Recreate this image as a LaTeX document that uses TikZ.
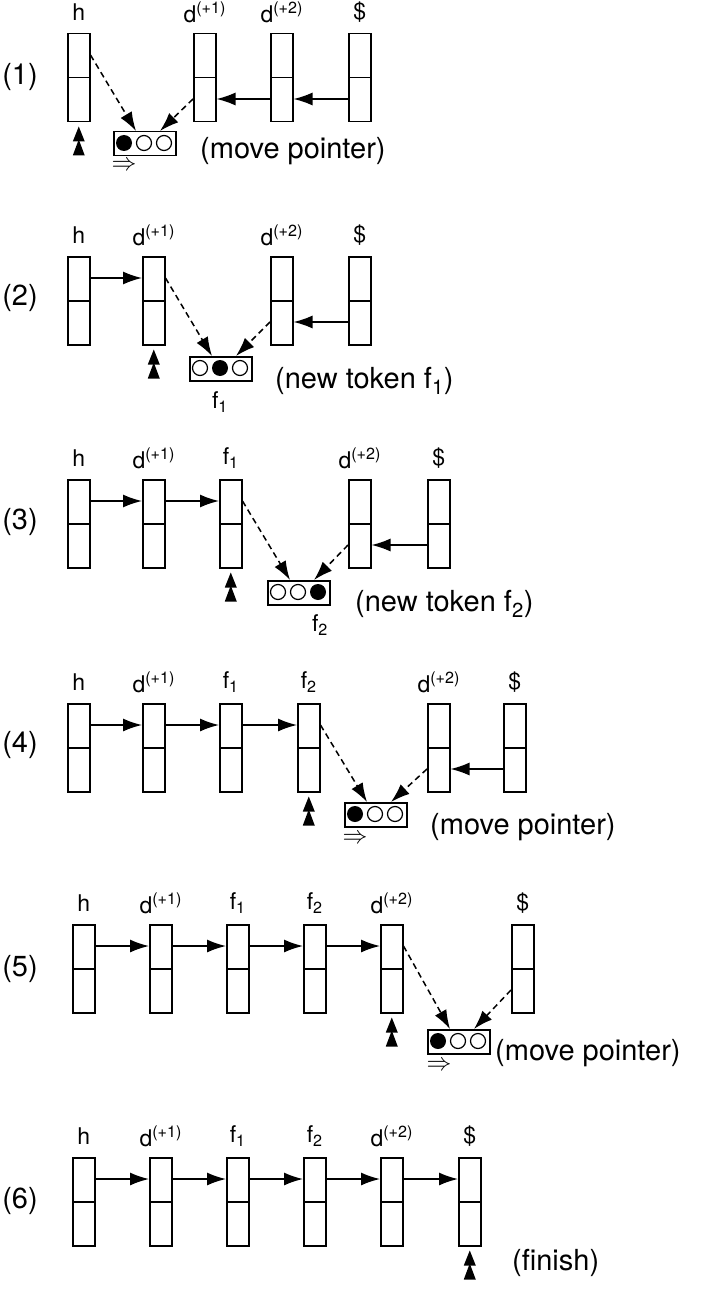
\documentclass[tikz,border=0pt]{standalone}
\usepackage{fontspec}
\setmainfont{TeX Gyre Heros}
\usetikzlibrary{calc,arrows.meta}

\tikzset{
  cell/.style={draw,line width=1.5pt,minimum width=22pt,minimum height=88pt,inner sep=0pt,anchor=north west},
  pbox/.style={draw,line width=1.5pt,minimum width=62pt,minimum height=24pt,inner sep=0pt,anchor=north west},
  lbl/.style={font=\fontsize{23}{23}\selectfont,inner sep=0pt},
  note/.style={font=\fontsize{29}{29}\selectfont,inner sep=0pt,anchor=west},
  link/.style={line width=1.5pt,-{Latex[length=19pt,width=13pt]}},
  ptrlink/.style={link,dash pattern=on 6pt off 4pt},
}

% token cell: name, x, top, label
\newcommand\tok[4]{%
  \node[cell] (#1) at (#2,#3) {};
  \draw[line width=1.5pt] (#1.west) -- (#1.east);
  \node[lbl] (#1l) at ($(#1.north)+(0,-21)$) {#4};}
% pointer box: name, x, top, filled slot
\newcommand\ptr[4]{%
  \node[pbox] (#1) at (#2,#3) {};
  \foreach \i in {0,1,2}{
    \ifnum\i=#4
      \fill ($(#1.north west)+(11+20*\i,12)$) circle (8pt);
    \else
      \draw[line width=1.2pt] ($(#1.north west)+(11+20*\i,12)$) circle (7.5pt);
    \fi}}
% double arrowhead under a cell
\newcommand\cursor[1]{%
  \fill ($(#1.south)+(-6,19)$) -- ($(#1.south)+(6,19)$) -- ($(#1.south)+(0,4)$) -- cycle;
  \fill ($(#1.south)+(-6,33)$) -- ($(#1.south)+(6,33)$) -- ($(#1.south)+(0,17)$) -- cycle;}
\newcommand\fwd[2]{\draw[link] ($(#1.north east)+(0,22)$) -- ($(#2.north west)+(0,22)$);}
\newcommand\bwd[2]{\draw[link] ($(#1.north west)+(0,66)$) -- ($(#2.north east)+(0,66)$);}
\newcommand\pto[3]{%
  \draw[ptrlink] ($(#1.north east)+(0,22)$) -- ($(#3.north west)+(23,0)$);
  \draw[ptrlink] ($(#2.north west)+(0,66)$) -- ($(#3.north west)+(47,0)$);}

\begin{document}
\begin{tikzpicture}[x=1pt,y=-1pt]
\useasboundingbox (0,0) rectangle (702,1289);

% (1)
\node[note,anchor=center] (n1) at (20,77) {(1)};
\tok{a1}{67}{33}{h} \tok{b1}{193}{33}{d\textsuperscript{(+1)}}
\tok{c1}{270}{33}{d\textsuperscript{(+2)}} \tok{e1}{348}{33}{\$}
\ptr{p1}{113}{131}{0}
\bwd{e1}{c1} \bwd{c1}{b1} \pto{a1}{b1}{p1} \cursor{a1}
\node[lbl] (s1) at (124,166) {$\Rightarrow$};
\node[note] (m1) at (200,151) {(move pointer)};

% (2)
\node[note,anchor=center] (n2) at (20,298) {(2)};
\tok{a2}{67}{256}{h} \tok{b2}{142}{256}{d\textsuperscript{(+1)}}
\tok{c2}{270}{256}{d\textsuperscript{(+2)}} \tok{e2}{348}{256}{\$}
\ptr{p2}{189}{356}{1}
\fwd{a2}{b2} \bwd{e2}{c2} \pto{b2}{c2}{p2} \cursor{b2}
\node[lbl] (s2) at (220,402) {f\textsubscript{1}};
\node[note] (m2) at (275,381) {(new token f\textsubscript{1})};

% (3)
\node[note,anchor=center] (n3) at (20,522) {(3)};
\tok{a3}{67}{479}{h} \tok{b3}{142}{479}{d\textsuperscript{(+1)}}
\tok{c3}{219}{479}{f\textsubscript{1}} \tok{d3}{348}{479}{d\textsuperscript{(+2)}}
\tok{e3}{427}{479}{\$}
\ptr{p3}{267}{580}{2}
\fwd{a3}{b3} \fwd{b3}{c3} \bwd{e3}{d3} \pto{c3}{d3}{p3} \cursor{c3}
\node[lbl] (s3) at (320,625) {f\textsubscript{2}};
\node[note] (m3) at (355,604) {(new token f\textsubscript{2})};

% (4)
\node[note,anchor=center] (n4) at (20,745) {(4)};
\tok{a4}{67}{703}{h} \tok{b4}{142}{703}{d\textsuperscript{(+1)}}
\tok{c4}{219}{703}{f\textsubscript{1}} \tok{d4}{297}{703}{f\textsubscript{2}}
\tok{f4}{427}{703}{d\textsuperscript{(+2)}} \tok{e4}{503}{703}{\$}
\ptr{p4}{344}{802}{0}
\fwd{a4}{b4} \fwd{b4}{c4} \fwd{c4}{d4} \bwd{e4}{f4} \pto{d4}{f4}{p4} \cursor{d4}
\node[lbl] (s4) at (355,839) {$\Rightarrow$};
\node[note] (m4) at (430,827) {(move pointer)};

% (5)
\node[note,anchor=center] (n5) at (20,969) {(5)};
\tok{a5}{72}{924}{h} \tok{b5}{149}{924}{d\textsuperscript{(+1)}}
\tok{c5}{226}{924}{f\textsubscript{1}} \tok{d5}{303}{924}{f\textsubscript{2}}
\tok{f5}{380}{924}{d\textsuperscript{(+2)}} \tok{e5}{511}{924}{\$}
\ptr{p5}{427}{1029}{0}
\fwd{a5}{b5} \fwd{b5}{c5} \fwd{c5}{d5} \fwd{d5}{f5} \pto{f5}{e5}{p5} \cursor{f5}
\node[lbl] (s5) at (439,1066) {$\Rightarrow$};
\node[note] (m5) at (495,1053) {(move pointer)};

% (6)
\node[note,anchor=center] (n6) at (20,1201) {(6)};
\tok{a6}{72}{1157}{h} \tok{b6}{149}{1157}{d\textsuperscript{(+1)}}
\tok{c6}{226}{1157}{f\textsubscript{1}} \tok{d6}{303}{1157}{f\textsubscript{2}}
\tok{f6}{380}{1157}{d\textsuperscript{(+2)}} \tok{e6}{458}{1157}{\$}
\fwd{a6}{b6} \fwd{b6}{c6} \fwd{c6}{d6} \fwd{d6}{f6} \fwd{f6}{e6} \cursor{e6}
\node[note] (m6) at (512,1263) {(finish)};
\end{tikzpicture}
\end{document}
